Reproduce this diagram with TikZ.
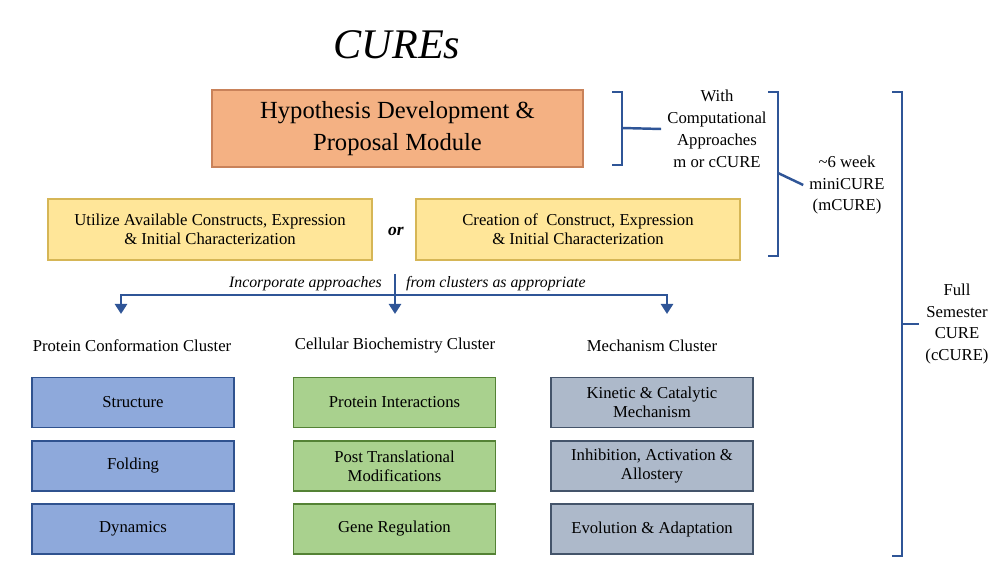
\documentclass[tikz,border=0pt]{standalone}
\usepackage{fontspec}
\setmainfont{Liberation Serif}
\usetikzlibrary{arrows.meta,positioning}
\definecolor{hypfill}{HTML}{F4B183}
\definecolor{hypdraw}{HTML}{C9825A}
\definecolor{yelfill}{HTML}{FFE699}
\definecolor{yeldraw}{HTML}{D6B656}
\definecolor{bluefill}{HTML}{8EA9DB}
\definecolor{bluedraw}{HTML}{2F528F}
\definecolor{greenfill}{HTML}{A9D18E}
\definecolor{greendraw}{HTML}{548235}
\definecolor{grayfill}{HTML}{ADB9CA}
\definecolor{graydraw}{HTML}{44546A}
\definecolor{navy}{HTML}{2F5597}
\tikzset{
  box/.style={rectangle,draw,thick,align=center,minimum width=4.04cm,minimum height=1cm,inner sep=1pt,font=\fontsize{9.5}{11}\selectfont},
  conf/.style={box,fill=bluefill,draw=bluedraw},
  cell/.style={box,fill=greenfill,draw=greendraw},
  mech/.style={box,fill=grayfill,draw=graydraw},
  plain/.style={align=center,font=\fontsize{9.5}{12.5}\selectfont},
  brace/.style={draw=navy,line width=1.4pt},
  flow/.style={draw=navy,line width=1.6pt,-{Triangle[length=2mm,width=2.4mm]}}
}
\begin{document}
\begin{tikzpicture}[x=0.02cm,y=-0.02cm]
\useasboundingbox (0,0) rectangle (1000,563);
\begin{scope}
	\node[font=\fontsize{24}{28}\selectfont\itshape] (title) at (397,45) {CUREs};
	\node[box,fill=hypfill,draw=hypdraw,minimum width=7.42cm,minimum height=1.54cm,font=\fontsize{14}{18}\selectfont] (hyp) at (397.5,128.5) {Hypothesis Development \&\\Proposal Module};
	\node[box,fill=yelfill,draw=yeldraw,minimum width=6.48cm,minimum height=1.22cm] (avail) at (210,229.5) {Utilize Available Constructs, Expression\\\& Initial Characterization};
	\node[box,fill=yelfill,draw=yeldraw,minimum width=6.48cm,minimum height=1.22cm] (create) at (578,229.5) {Creation of~ Construct, Expression\\\& Initial Characterization};
	\node[font=\fontsize{10}{12}\selectfont\bfseries\itshape] (or) at (396,231) {or};

	\node[plain] (confT) at (132,346) {Protein Conformation Cluster};
	\node[plain] (cellT) at (395,346) {Cellular Biochemistry Cluster};
	\node[plain] (mechT) at (652,346) {Mechanism Cluster};

	\node[conf] (struct) at (133,402.5) {Structure};
	\node[conf] (fold) at (133,466) {Folding};
	\node[conf] (dyn) at (133,529) {Dynamics};
	\node[cell] (inter) at (394.5,402.5) {Protein Interactions};
	\node[cell] (post) at (394.5,466) {Post Translational\\Modifications};
	\node[cell] (gene) at (394.5,529) {Gene Regulation};
	\node[mech] (kin) at (652,402.5) {Kinetic \& Catalytic\\Mechanism};
	\node[mech] (inhib) at (652,466) {Inhibition, Activation \&\\Allostery};
	\node[mech] (evo) at (652,529) {Evolution \& Adaptation};

	\node[plain] (comp) at (717,129) {With\\Computational\\Approaches\\m or cCURE};
	\node[plain] (mini) at (847,185) {\textasciitilde6 week\\miniCURE\\(mCURE)};
	\node[plain] (full) at (957,324) {Full\\Semester\\CURE\\(cCURE)};
\end{scope}

\begin{scope}
	\coordinate (split) at (395,274);
	\coordinate (bar) at (395,295);
	\draw[flow] (split) -- (395,314);
	\draw[flow] (bar) -| (121,314);
	\draw[flow] (bar) -| (667,314);
	\node[font=\fontsize{9}{11}\selectfont\itshape,anchor=east] (incA) at (388,284) {Incorporate approaches};
	\node[font=\fontsize{9}{11}\selectfont\itshape,anchor=west] (incB) at (400,284) {from clusters as appropriate};

	\draw[brace] (612,92) -- (622,92) -- (622,165) -- (612,165);
	\draw[brace] (622,128) -- (comp.west);
	\draw[brace] (768,92) -- (778,92) -- (778,256) -- (768,256);
	\draw[brace] (778,173) -- (mini.west);
	\draw[brace] (892,92) -- (902,92) -- (902,556) -- (892,556);
	\draw[brace] (902,324) -- (full.west);
\end{scope}
\end{tikzpicture}
\end{document}
